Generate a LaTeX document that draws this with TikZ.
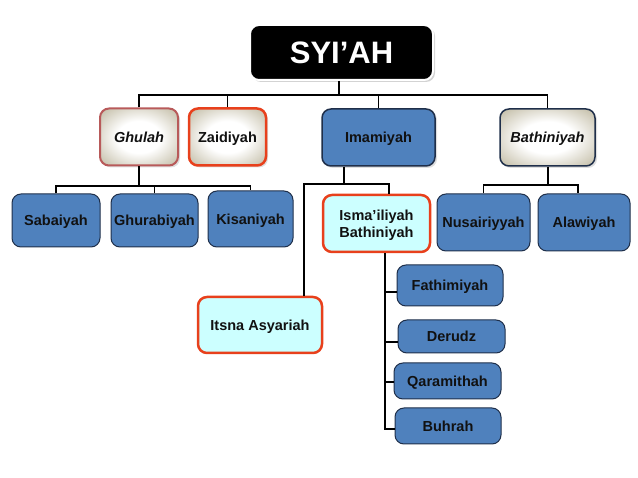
\documentclass[tikz,border=0pt]{standalone}
\usepackage{fontspec}
\setmainfont{Liberation Sans}
\usetikzlibrary{shadows}
\definecolor{boxblue}{HTML}{4F81BD}
\definecolor{boxedge}{HTML}{1F2F4A}
\definecolor{redge}{HTML}{E8401C}
\definecolor{mutedred}{HTML}{B85A5A}
\definecolor{lightcyan}{HTML}{CCFFFF}
\definecolor{beige}{HTML}{C4BEA8}
\definecolor{beigedark}{HTML}{AEA890}
\definecolor{txt}{HTML}{111111}
\pgfdeclareradialshading{glow}{\pgfpoint{0bp}{0bp}}{color(0bp)=(white); color(14bp)=(white); color(34bp)=(beige); color(50bp)=(beigedark)}
\begin{document}
\begin{tikzpicture}[x=1pt,y=-1pt,
  base/.style={rectangle,rounded corners=9pt,inner sep=0pt,align=center,text=txt,
    text depth=0pt,font=\fontsize{14.5}{17}\selectfont\bfseries},
  bluebox/.style={base,fill=boxblue,draw=boxedge,line width=1pt},
  cyanbox/.style={base,fill=lightcyan,draw=redge,line width=2.5pt},
  gradbox/.style={base,shading=glow,line width=2pt,
    drop shadow={opacity=0.25,shadow xshift=2pt,shadow yshift=-2pt}},
  conn/.style={draw=black,line width=1.6pt}]
\useasboundingbox (0,0) rectangle (638,478);
% top
\node[base,fill=black,draw=white,line width=2pt,text=white,
  font=\fontsize{31}{33}\selectfont\bfseries,minimum width=183pt,minimum height=55pt,
  drop shadow={opacity=0.35,shadow xshift=2pt,shadow yshift=-2pt}] (syiah) at (341.5,52.5) {SYI’AH};
% level 1
\node[gradbox,draw=mutedred,minimum width=78pt,minimum height=57pt] (ghulah) at (139,137) {\itshape Ghulah};
\node[gradbox,draw=redge,line width=2.5pt,minimum width=77pt,minimum height=57pt] (zaid) at (227.5,137) {Zaidiyah};
\node[bluebox,minimum width=113pt,minimum height=57pt,line width=1.5pt,
  drop shadow={opacity=0.25,shadow xshift=2pt,shadow yshift=-2pt}] (imam) at (378.5,137.5) {Imamiyah};
\node[gradbox,draw=boxedge,line width=1.5pt,minimum width=95pt,minimum height=57pt] (bath) at (547.5,137.5) {\itshape Bathiniyah};
% level 2
\node[bluebox,minimum width=88pt,minimum height=53pt] (sab) at (56,220.5) {Sabaiyah};
\node[bluebox,minimum width=87pt,minimum height=53pt] (ghur) at (154.5,220.5) {Ghurabiyah};
\node[bluebox,minimum width=85pt,minimum height=56pt] (kis) at (250.5,219) {Kisaniyah};
\node[cyanbox,minimum width=107pt,minimum height=57pt] (isma) at (376.5,223.5) {Isma’iliyah\\Bathiniyah};
\node[bluebox,minimum width=93pt,minimum height=57pt] (nus) at (483.5,222.5) {Nusairiyyah};
\node[bluebox,minimum width=92pt,minimum height=57pt] (alaw) at (584,222.5) {Alawiyah};
% level 3
\node[cyanbox,minimum width=124pt,minimum height=56pt] (itsna) at (260,325) {Itsna Asyariah};
\node[bluebox,minimum width=106pt,minimum height=41pt] (fath) at (450,285.5) {Fathimiyah};
\node[bluebox,minimum width=107pt,minimum height=33pt] (der) at (451.5,336.5) {Derudz};
\node[bluebox,minimum width=107pt,minimum height=36pt] (qar) at (447.5,381) {Qaramithah};
\node[bluebox,minimum width=106pt,minimum height=36pt] (buh) at (448,426) {Buhrah};
% junctions
\coordinate (j0) at (339,95);
\coordinate (jg) at (139,186);
\coordinate (ji) at (344,184);
\coordinate (jb) at (548,185);
\coordinate (b1) at (385,292);
\coordinate (b2) at (385,342);
\coordinate (b3) at (385,382);
\coordinate (b4) at (385,429);
% connectors
\draw[conn] (syiah.south -| j0) -- (j0);
\draw[conn] (ghulah.north) -- (ghulah.north |- j0) -- (bath.north |- j0) -- (bath.north);
\draw[conn] (zaid.north) -- (zaid.north |- j0);
\draw[conn] (imam.north) -- (imam.north |- j0);
% Ghulah children
\draw[conn] (ghulah.south) -- (jg);
\draw[conn] (sab.north) -- (sab.north |- jg) -- (kis.north |- jg) -- (kis.north);
\draw[conn] (ghur.north) -- (ghur.north |- jg);
% Imamiyah children
\draw[conn] (imam.south -| ji) -- (ji);
\coordinate (ia) at (304,184);
\coordinate (ib) at (389,184);
\draw[conn] (itsna.north -| ia) -- (ia) -- (ib) -- (isma.north -| ib);
% Bathiniyah children
\draw[conn] (bath.south -| jb) -- (jb);
\coordinate (ba) at (483.5,185);
\coordinate (bb) at (578,185);
\draw[conn] (nus.north -| ba) -- (ba) -- (bb) -- (alaw.north -| bb);
% Isma'iliyah children
\draw[conn] (isma.south -| b4) -- (b4) -- (b4 -| buh.west);
\draw[conn] (b1) -- (b1 -| fath.west);
\draw[conn] (b2) -- (b2 -| der.west);
\draw[conn] (b3) -- (b3 -| qar.west);
\end{tikzpicture}
\end{document}
